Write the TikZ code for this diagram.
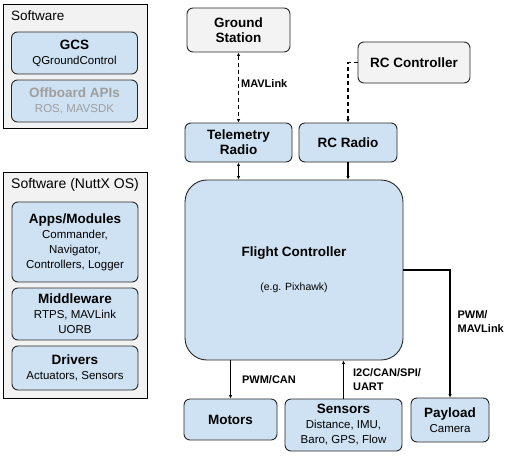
\documentclass[tikz,border=0pt]{standalone}
\usepackage{fontspec}
\setmainfont{Liberation Sans}
\usetikzlibrary{arrows.meta}

\definecolor{boxblue}{HTML}{CFE2F3}
\definecolor{boxgray}{HTML}{F3F3F3}
\definecolor{panelgray}{HTML}{F2F2F2}
\definecolor{offgray}{HTML}{9E9E9E}

\newcommand{\ttl}[1]{{\fontsize{13.5}{16}\selectfont\bfseries #1}}

\begin{document}
\begin{tikzpicture}[x=1pt, y=-1pt,
    >={Latex[length=3.5pt,width=3.5pt]},
    box/.style={draw=black!85, fill=boxblue, rounded corners=6pt, line width=0.9pt,
        align=center, inner sep=0pt, font=\fontsize{11.5}{15}\selectfont},
    gbox/.style={box, fill=boxgray},
    panel/.style={draw=black, fill=panelgray, line width=1pt, inner sep=0pt},
    link/.style={line width=1.2pt},
    lbl/.style={font=\fontsize{11}{14}\selectfont\bfseries, align=left, inner sep=0pt}]

    \useasboundingbox (0,0) rectangle (505,466);

    % Panel sizes
    \def\pw{144pt}
    \def\bw{126pt}

    % Software (top left)
    \node[panel, minimum width=\pw, minimum height=124pt] (swgcs) at (75,66) {};
    \node[anchor=west, inner sep=0pt, font=\fontsize{13.5}{16}\selectfont] (swgcslbl) at (11,16) {Software};
    \node[box, minimum width=\bw, minimum height=42pt] (gcs) at (74.5,53) {\ttl{GCS}\\QGroundControl};
    \node[box, minimum width=\bw, minimum height=42pt, text=offgray] (offboard) at (74.5,101) {\ttl{Offboard APIs}\\ROS, MAVSDK};

    % Software on the flight controller (bottom left)
    \node[panel, minimum width=\pw, minimum height=226pt] (swnuttx) at (75,285) {};
    \node[anchor=west, inner sep=0pt, font=\fontsize{14}{16}\selectfont] (swnuttxlbl) at (11,185) {Software (NuttX OS)};
    \node[box, minimum width=\bw, minimum height=80pt] (apps) at (75,242) {\ttl{Apps/Modules}\\Commander,\\Navigator,\\Controllers, Logger};
    \node[box, minimum width=\bw, minimum height=52pt] (middleware) at (75,314) {\ttl{Middleware}\\RTPS, MAVLink\\UORB};
    \node[box, minimum width=\bw, minimum height=44pt] (drivers) at (75,368) {\ttl{Drivers}\\Actuators, Sensors};

    % Hardware
    \node[gbox, minimum width=103pt, minimum height=44pt] (ground) at (238.5,30) {\ttl{Ground}\\\ttl{Station}};
    \node[gbox, minimum width=112pt, minimum height=41pt] (rcctrl) at (414,62.5) {\ttl{RC Controller}};
    \node[box, minimum width=107pt, minimum height=39pt] (telem) at (238.5,142.5) {\ttl{Telemetry}\\\ttl{Radio}};
    \node[box, minimum width=98pt, minimum height=39pt] (rcradio) at (348,142.5) {\ttl{RC Radio}};
    \node[box, minimum width=218pt, minimum height=180pt, rounded corners=22pt] (fc) at (294,270)
        {\ttl{Flight Controller}\\[19pt]{\fontsize{10.5}{12}\selectfont(e.g. Pixhawk)}};
    \node[box, minimum width=93pt, minimum height=41pt] (motors) at (230.5,419.5) {\ttl{Motors}};
    \node[box, minimum width=117pt, minimum height=52pt] (sensors) at (343.5,425) {\ttl{Sensors}\\Distance, IMU,\\Baro, GPS, Flow};
    \node[box, minimum width=78pt, minimum height=44pt] (payload) at (450,420) {\ttl{Payload}\\Camera};

    % Links
    \draw[link, <->, dash pattern=on 4pt off 3pt] (ground) -- (telem)
        node[lbl, pos=0.45, right=2pt] {MAVLink};
    \draw[link, ->, dash pattern=on 4pt off 3pt] (rcctrl.west) -| (rcradio.north);
    \draw[link, <->] (telem.south) -- (telem.south |- fc.north);
    \draw[link, ->] (rcradio.south) -- (rcradio.south |- fc.north);
    \draw[link, ->] (motors.north |- fc.south) -- (motors.north)
        node[lbl, midway, right=11pt] {PWM/CAN};
    \draw[link, ->] (sensors.north) -- (sensors.north |- fc.south)
        node[lbl, midway, right=9pt] {I2C/CAN/SPI/\\UART};
    \draw[link, ->] (fc.east) -| (payload.north)
        node[lbl, pos=0.7, right=7pt] {PWM/\\MAVLink};

\end{tikzpicture}
\end{document}
